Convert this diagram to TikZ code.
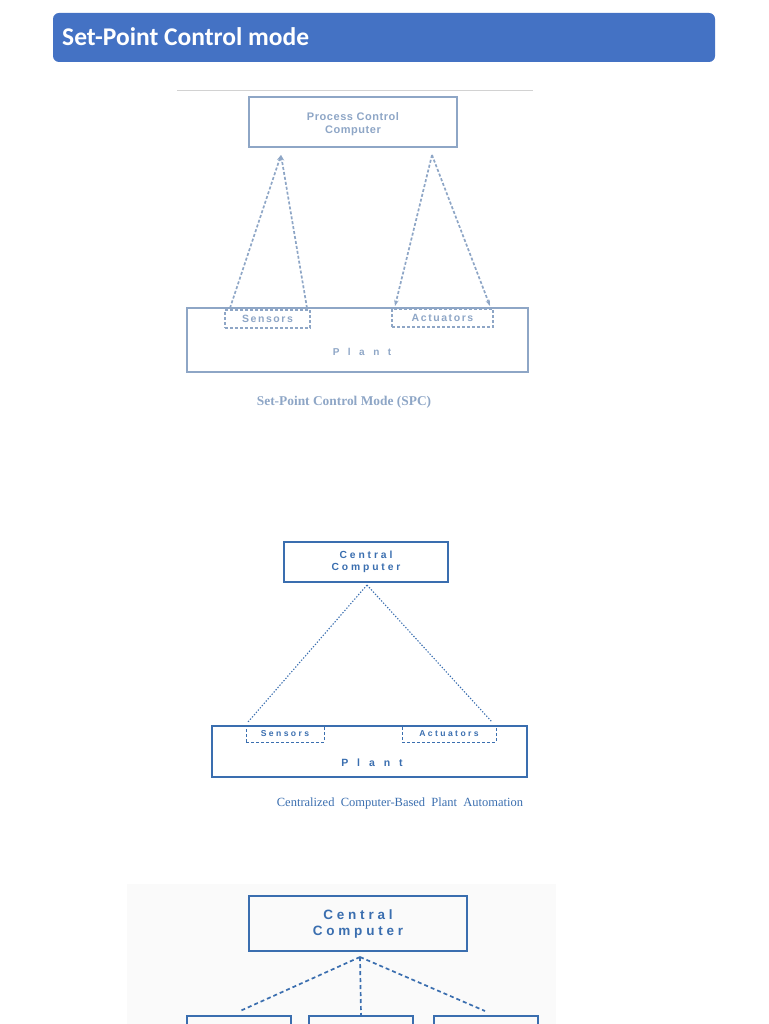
\documentclass[tikz,border=0pt]{standalone}
\usepackage{fontspec}
\setmainfont{Liberation Serif}
\newfontfamily\titlefont{Carlito}
\newfontfamily\spacedA[LetterSpace=15]{Liberation Sans}
\newfontfamily\spacedB[LetterSpace=28]{Liberation Sans}
\newfontfamily\spacedC[LetterSpace=85]{Liberation Sans}
\newfontfamily\spacedP[LetterSpace=5]{Liberation Sans}
\usetikzlibrary{arrows.meta}
\definecolor{titleblue}{HTML}{4472C4}
\definecolor{fadeblue}{HTML}{8EA6C6}
\definecolor{scanblue}{HTML}{3A6EAF}
\tikzset{
  fbox/.style={draw=fadeblue, line width=2pt, inner sep=0pt, text=fadeblue},
  fsub/.style={draw=fadeblue, line width=1.5pt, dash pattern=on 3pt off 2pt, inner sep=0pt, text=fadeblue},
  fline/.style={draw=fadeblue, line width=1.7pt, dash pattern=on 3pt off 2pt},
  sbox/.style={draw=scanblue, line width=1.1pt, inner sep=0pt, text=scanblue},
  ssub/.style={draw=scanblue, line width=1pt, dash pattern=on 3pt off 2pt, inner sep=0pt, text=scanblue},
  sline/.style={draw=scanblue, line width=1.1pt, dash pattern=on 1.3pt off 1.7pt},
  tline/.style={draw=scanblue, line width=1.7pt, dash pattern=on 4pt off 3pt},
}
\begin{document}
\begin{tikzpicture}[x=1pt,y=-1pt]
\useasboundingbox (0,0) rectangle (768,1024);
% title bar
\node[fill=titleblue, rounded corners=6pt, minimum width=662pt, minimum height=49pt, inner sep=0pt] (bar) at (384,37.5) {};
\node[anchor=base west, text=white, font=\titlefont\bfseries\fontsize{25.5}{28}\selectfont, inner sep=0pt] (title) at (62,45.5) {Set-Point Control mode};

% ---------- diagram 1 ----------
\coordinate (rule1) at (177,90);
\coordinate (rule2) at (533,90);
\draw[gray!35, line width=0.6pt] (rule1) -- (rule2);
\node[fbox, minimum width=208pt, minimum height=50pt, align=center, font=\spacedP\bfseries\fontsize{11}{12.5}\selectfont] (pcc) at (353,122) {};
\node[text=fadeblue, align=center, font=\spacedP\bfseries\fontsize{11}{12.5}\selectfont] (pcct) at (353,124) {Process Control\\Computer};
\node[fbox, minimum width=341pt, minimum height=64pt] (plant1) at (357.5,340) {};
\node[text=fadeblue, font=\spacedC\bfseries\fontsize{10}{11}\selectfont] (pl1) at (362,352) {Plant};
\node[fsub, minimum width=85pt, minimum height=18pt, font=\spacedA\bfseries\fontsize{10.5}{11}\selectfont] (sen1) at (267.5,319) {Sensors};
\node[fsub, minimum width=101pt, minimum height=18pt, font=\spacedA\bfseries\fontsize{10.5}{11}\selectfont] (act1) at (442.5,318) {Actuators};
\coordinate (apexL) at (281,155);
\coordinate (apexR) at (432,155);
\coordinate (sl) at (230,308);
\coordinate (sr) at (307,308);
\coordinate (al) at (395,306);
\coordinate (ar) at (490,306);
\draw[fline, -{Stealth[length=6pt,width=4.5pt]}] (sl) -- (apexL);
\draw[fline, -{Stealth[length=6pt,width=4.5pt]}] (sr) -- (apexL);
\draw[fline, -{Stealth[length=6pt,width=4.5pt]}] (apexR) -- (al);
\draw[fline, -{Stealth[length=6pt,width=4.5pt]}] (apexR) -- (ar);
\node[text=fadeblue, font=\bfseries\fontsize{13.4}{15}\selectfont] (cap1) at (344,402) {Set-Point Control Mode (SPC)};

% ---------- diagram 2 ----------
\node[sbox, minimum width=164pt, minimum height=40pt, align=center, font=\spacedB\bfseries\fontsize{10.3}{12}\selectfont] (cc2) at (366,562) {Central\\Computer};
\node[sbox, minimum width=315pt, minimum height=51pt] (plant2) at (369.5,751.5) {};
\node[text=scanblue, font=\spacedC\bfseries\fontsize{10.5}{12}\selectfont] (pl2) at (372,763) {Plant};
\node[ssub, minimum width=78pt, minimum height=16pt, font=\spacedB\bfseries\fontsize{8.6}{10}\selectfont] (sen2) at (285,734) {Sensors};
\node[ssub, minimum width=94pt, minimum height=16pt, font=\spacedB\bfseries\fontsize{8.6}{10}\selectfont] (act2) at (449,734) {Actuators};
\coordinate (apex2) at (367,585);
\coordinate (s2) at (248,722);
\coordinate (a2) at (492,722);
\draw[sline] (apex2) -- (s2);
\draw[sline] (apex2) -- (a2);
\node[text=scanblue, font=\fontsize{12.5}{14}\selectfont] (cap2) at (400,803) {Centralized\ \ Computer-Based\ \ Plant\ \ Automation};

% ---------- diagram 3 ----------
\fill[black!2] (127,884) rectangle (556,1024);
\node[sbox, line width=1.6pt, minimum width=218pt, minimum height=55pt, align=center, font=\spacedB\bfseries\fontsize{13.5}{16}\selectfont] (cc3) at (358,923.5) {Central\\Computer};
\coordinate (apex3) at (360,957);
\node[sbox, line width=1.6pt, minimum width=104pt, minimum height=30pt, anchor=north] (b1) at (239,1015) {};
\node[sbox, line width=1.6pt, minimum width=104pt, minimum height=30pt, anchor=north] (b2) at (361,1015) {};
\node[sbox, line width=1.6pt, minimum width=104pt, minimum height=30pt, anchor=north] (b3) at (486,1015) {};
\coordinate (e1) at (240,1011);
\coordinate (e3) at (485,1011);
\draw[tline] (apex3) -- (e1);
\draw[tline] (apex3) -- (b2.north);
\draw[tline] (apex3) -- (e3);
\end{tikzpicture}
\end{document}
